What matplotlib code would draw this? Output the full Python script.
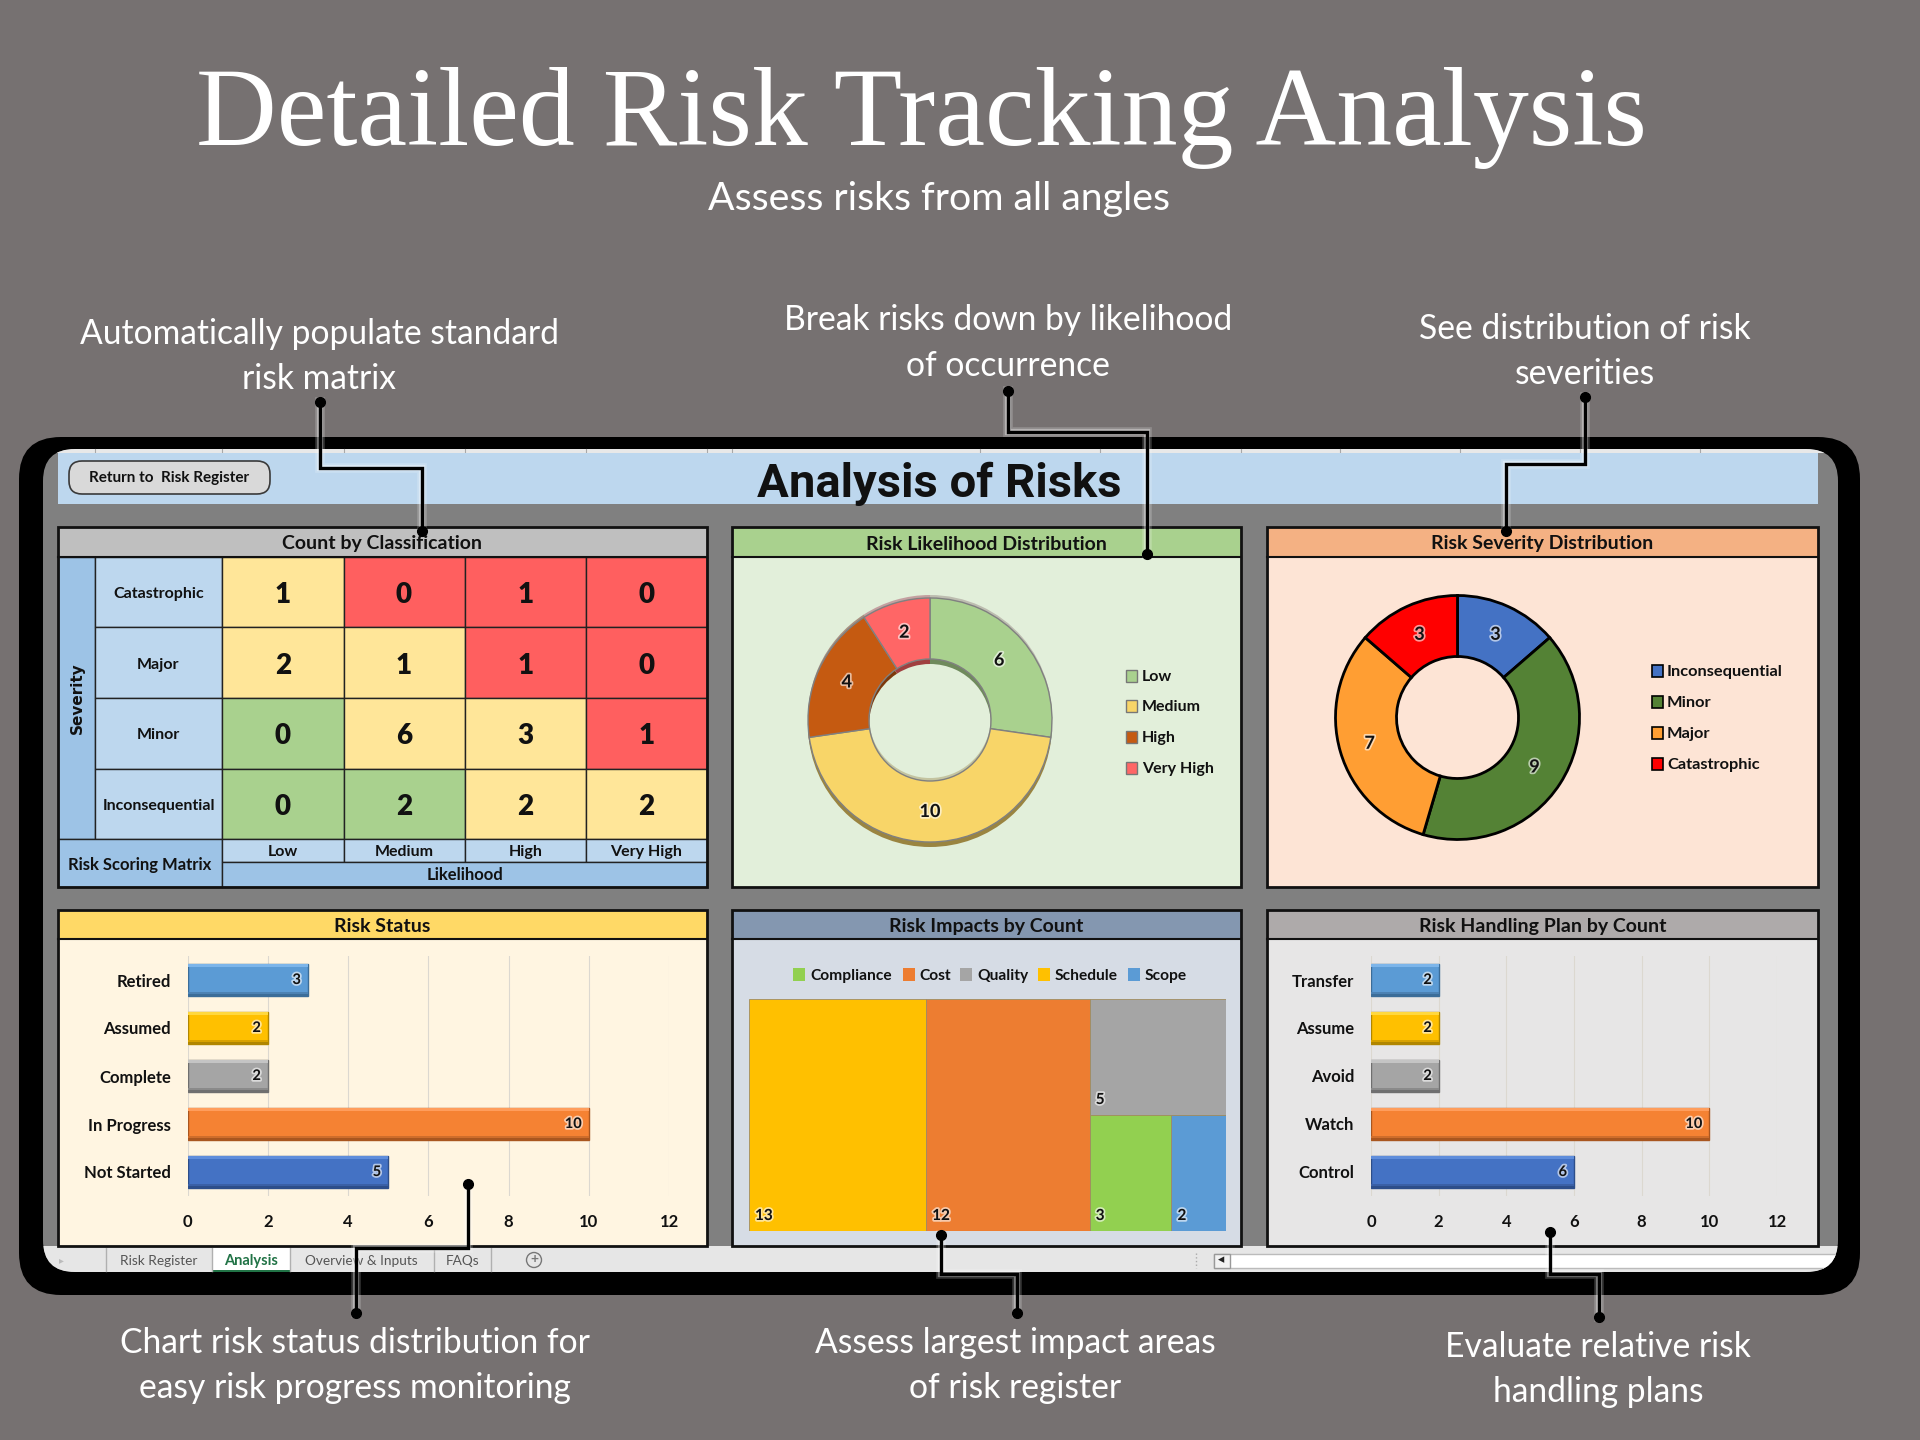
import numpy as np
import matplotlib
matplotlib.use('Agg')
import matplotlib.pyplot as plt
import matplotlib.patheffects as pe
from matplotlib.patches import Rectangle, FancyBboxPatch, Circle

W, H = 1920, 1440

# risk matrix
severity_labels = ['Catastrophic', 'Major', 'Minor', 'Inconsequential']
likelihood_labels = ['Low', 'Medium', 'High', 'Very High']
matrix_values = [[1, 0, 1, 0],
                 [2, 1, 1, 0],
                 [0, 6, 3, 1],
                 [0, 2, 2, 2]]
matrix_levels = [['y', 'r', 'r', 'r'],
                 ['y', 'y', 'r', 'r'],
                 ['g', 'y', 'y', 'r'],
                 ['g', 'g', 'y', 'y']]

# donuts
likelihood_values = [6, 10, 4, 2]
severity_names = ['Inconsequential', 'Minor', 'Major', 'Catastrophic']
severity_values = [3, 9, 7, 3]

# bars
status_labels = ['Retired', 'Assumed', 'Complete', 'In Progress', 'Not Started']
status_values = [3, 2, 2, 10, 5]
plan_labels = ['Transfer', 'Assume', 'Avoid', 'Watch', 'Control']
plan_values = [2, 2, 2, 10, 6]

# treemap
impact_labels = ['Schedule', 'Cost', 'Quality', 'Compliance', 'Scope']
impact_values = [13, 12, 5, 3, 2]
legend_order = ['Compliance', 'Cost', 'Quality', 'Schedule', 'Scope']

SANS = 'Lato'
plt.rcParams['font.family'] = SANS

fig = plt.figure(figsize=(19.2, 14.4), dpi=100, facecolor='#767171')
bg = fig.add_axes([0, 0, 1, 1], zorder=0)
bg.set_xlim(0, W)
bg.set_ylim(H, 0)
bg.axis('off')


def box(x0, y0, x1, y1, color, ec='none', lw=0, z=1):
    r = Rectangle((x0, y0), x1 - x0, y1 - y0, facecolor=color, edgecolor=ec, linewidth=lw, zorder=z)
    bg.add_patch(r)
    return r


def label(x, y, s, size=11, weight='bold', color='#111111', ax=bg, **kw):
    kw.setdefault('ha', 'center')
    kw.setdefault('va', 'center')
    kw.setdefault('zorder', 6)
    return ax.text(x, y, s, fontsize=size, fontweight=weight, color=color, **kw)


def sub_axes(x0, y0, x1, y1):
    a = fig.add_axes([x0 / W, 1 - y1 / H, (x1 - x0) / W, (y1 - y0) / H], zorder=2)
    a.patch.set_alpha(0)
    return a


glow = [pe.withStroke(linewidth=2.5, foreground='white', alpha=0.6)]

# monitor frame
bg.add_patch(FancyBboxPatch((19, 437), 1841, 858, boxstyle='round,pad=0,rounding_size=42',
                            facecolor='black', edgecolor='none', zorder=1))
inner = FancyBboxPatch((43, 449), 1795, 823, boxstyle='round,pad=0,rounding_size=32',
                       facecolor='#808080', edgecolor='none', zorder=1.1)
bg.add_patch(inner)

# header band
band = box(43, 449, 1838, 453, '#e8e8e8', z=1.2)
band.set_clip_path(inner)
for sx in [95, 222, 343.5, 464.5, 586, 707, 732, 980, 1100, 1241, 1340, 1460, 1580, 1700]:
    bg.plot([sx, sx], [449, 453], color='#a8a8a8', lw=0.8, zorder=1.25)
box(58, 453, 1818, 504, '#bdd7ee', z=1.3)
bg.add_patch(FancyBboxPatch((69, 461), 201, 33, boxstyle='round,pad=0,rounding_size=13',
                            facecolor='#d9d9d9', edgecolor='#3a3a3a', linewidth=1.2, zorder=2))
label(169, 478, 'Return to  Risk Register', size=11, zorder=3)
label(939, 484, 'Analysis of Risks', size=34, family='Roboto')

# tab bar
tabs = box(43, 1246, 1838, 1272, '#e6e6e6', z=1.2)
tabs.set_clip_path(inner)
box(212, 1246, 290, 1272, 'white', z=1.3)
box(212, 1270, 290, 1272, '#217346', z=1.4)
for sx in [106, 212, 290, 434, 491]:
    bg.plot([sx, sx], [1248, 1271], color='#b0b0b0', lw=1, zorder=1.5)
label(61, 1260, '▸', size=7, family='DejaVu Sans', color='#bbbbbb')
label(158.5, 1261, 'Risk Register', size=9.8, weight='normal', color='#555555')
label(251, 1261, 'Analysis', size=10.5, color='#217346')
label(361, 1261, 'Overview & Inputs', size=9.8, weight='normal', color='#555555')
label(463, 1261, 'FAQs', size=9.8, weight='normal', color='#555555')
bg.add_patch(Circle((534, 1260), 7.5, facecolor='none', edgecolor='#777777', linewidth=1, zorder=2))
label(534, 1259.5, '+', size=10, color='#777777')
scroll = box(1214, 1254, 1838, 1268, 'white', ec='#bbbbbb', lw=1, z=1.5)
scroll.set_clip_path(inner)
box(1214, 1254, 1230, 1268, '#f2f2f2', ec='#999999', lw=1, z=1.6)
label(1221, 1260, '◂', size=9, family='DejaVu Sans', color='#222222')
bg.plot([1196, 1196], [1253, 1268], color='#aaaaaa', lw=1, ls=':', zorder=1.5)

# panels
panels = [(58, 527, 707, 557, 887, '#bfbfbf', '#ffffff', 'Count by Classification'),
          (732, 527, 1241, 557, 887, '#a9d18e', '#e2efda', 'Risk Likelihood Distribution'),
          (1267, 527, 1818, 557, 887, '#f4b183', '#fde4d5', 'Risk Severity Distribution'),
          (58, 910, 707, 939, 1246, '#ffd966', '#fff5e1', 'Risk Status'),
          (732, 910, 1241, 939, 1246, '#8497b0', '#d6dce5', 'Risk Impacts by Count'),
          (1267, 910, 1818, 939, 1246, '#aeaaaa', '#e7e6e6', 'Risk Handling Plan by Count')]
for x0, y0, x1, ym, y1, head, body, title in panels:
    box(x0, ym, x1, y1, body, z=2)
    box(x0, y0, x1, ym, head, z=2)
    box(x0, y0, x1, y1, 'none', ec='#111111', lw=2, z=4)
    bg.plot([x0, x1], [ym, ym], color='#111111', lw=1.5, zorder=4)
    label((x0 + x1) / 2, (y0 + ym) / 2 + 2, title, size=14)

# matrix
cell_x = [222, 343.5, 464.5, 586, 707]
cell_y = [557, 627, 698, 768.5, 839]
level_color = {'y': '#ffe699', 'r': '#ff5f5f', 'g': '#a9d18e'}
box(58, 557, 95, 839, '#9dc3e6', ec='#222222', lw=1, z=3)
label(77, 698, 'Severity', size=11, rotation=90, family='DejaVu Sans')
for i, name in enumerate(severity_labels):
    box(95, cell_y[i], 222, cell_y[i + 1], '#bdd7ee', ec='#222222', lw=1, z=3)
    label(158.5, (cell_y[i] + cell_y[i + 1]) / 2 + 2, name, size=11.5)
    for j in range(4):
        box(cell_x[j], cell_y[i], cell_x[j + 1], cell_y[i + 1], level_color[matrix_levels[i][j]],
            ec='#222222', lw=1, z=3)
        label((cell_x[j] + cell_x[j + 1]) / 2, (cell_y[i] + cell_y[i + 1]) / 2 + 3,
              str(matrix_values[i][j]), size=20, weight='heavy')
box(58, 839, 222, 887, '#9dc3e6', ec='#222222', lw=1, z=3)
label(140, 865, 'Risk Scoring Matrix', size=12)
for j, name in enumerate(likelihood_labels):
    box(cell_x[j], 839, cell_x[j + 1], 862, '#bdd7ee', ec='#222222', lw=1, z=3)
    label((cell_x[j] + cell_x[j + 1]) / 2, 852, name, size=11.5)
box(222, 862, 707, 887, '#9dc3e6', ec='#222222', lw=1, z=3)
label(464.5, 875, 'Likelihood', size=12)


# donuts
def donut(cx, cy, R, vals, colors, hole, edge, lw, layers=()):
    total = sum(vals)
    for dy, cols in layers:
        a = sub_axes(cx - R, cy - R + dy, cx + R, cy + R + dy)
        a.pie(vals, colors=cols, startangle=90, counterclock=False, radius=1,
              wedgeprops={'width': 1 - hole, 'edgecolor': 'none'})
        a.set_xlim(-1, 1)
        a.set_ylim(-1, 1)
    a = sub_axes(cx - R, cy - R, cx + R, cy + R)
    _, _, autos = a.pie(vals, colors=colors, startangle=90, counterclock=False, radius=1,
                        wedgeprops={'width': 1 - hole, 'edgecolor': edge, 'linewidth': lw},
                        autopct=lambda p: str(int(round(p * total / 100))), pctdistance=(1 + hole) / 2)
    for t in autos:
        t.set_fontsize(13)
        t.set_fontweight('bold')
        t.set_color('#111111')
        t.set_path_effects(glow)
    a.set_xlim(-1, 1)
    a.set_ylim(-1, 1)


likelihood_colors = ['#a9d18e', '#f8d568', '#c55a11', '#ff6666']
likelihood_dark = ['#6f8a5c', '#9a8440', '#7d390b', '#a04040']
likelihood_light = ['#bdbdb0', '#c4c4a0', '#a89080', '#c4a0a0']
donut(930, 720, 122, likelihood_values, likelihood_colors, 0.5, '#808080', 1,
      layers=[(-3, likelihood_light), (5, likelihood_dark)])
for i, name in enumerate(likelihood_labels):
    y = [676, 706, 737, 768][i]
    box(1126, y - 6, 1137, y + 6, likelihood_colors[i], ec='#777777', lw=1, z=3)
    label(1142, y + 1, name, size=11.5, ha='left')

severity_colors = ['#4472c4', '#548235', '#ff9e33', '#ff0000']
donut(1457.5, 717.5, 122, severity_values, severity_colors, 0.5, 'black', 2)
for i, name in enumerate(severity_names):
    y = [671, 702, 733, 764][i]
    box(1652, y - 6, 1663, y + 6, severity_colors[i], ec='black', lw=1.2, z=3)
    label(1667, y + 1, name, size=11.8, ha='left')

# bars
bar_colors = ['#5b9bd5', '#ffc000', '#a5a5a5', '#f58233', '#4472c4']
bar_light = ['#7cb5ea', '#ffd83f', '#c4c4c4', '#ff9d5c', '#5f8ddb']
bar_mid = ['#4c82b4', '#d8a200', '#8a8a8a', '#cf6d2b', '#3a60a6']
bar_dark = ['#3b6d99', '#b08600', '#6f6f6f', '#a9561f', '#2d4e8a']


def bar_panel(x0, x1, labels, vals):
    a = sub_axes(x0, 956, x1, 1196)
    ypos = np.arange(len(vals))
    bh = 0.68
    a.grid(axis='x', color='#dcd8d0', lw=0.8)
    a.set_axisbelow(True)
    bars = a.barh(ypos, vals, height=bh, color=bar_colors, edgecolor=bar_dark, linewidth=1)
    a.barh(ypos - bh / 2 + 0.035, vals, height=0.07, color=bar_light)
    a.barh(ypos + bh / 2 - 0.06, vals, height=0.05, color=bar_mid)
    a.barh(ypos + bh / 2 - 0.02, vals, height=0.04, color=bar_dark)
    a.set_xlim(0, 12)
    a.set_ylim(len(vals) - 0.5, -0.5)
    a.set_xticks(np.arange(0, 13, 2))
    a.set_yticks(ypos, labels)
    a.tick_params(length=0, labelsize=12, labelcolor='#111111')
    a.tick_params(axis='x', pad=13)
    a.tick_params(axis='y', pad=12)
    for t in a.get_xticklabels() + a.get_yticklabels():
        t.set_fontweight('bold')
    for s in a.spines.values():
        s.set_visible(False)
    for t in a.bar_label(bars, padding=-5, fontsize=10.5, fontweight='bold', color='#111111'):
        t.set_ha('right')
        t.set_path_effects(glow)


bar_panel(187.5, 669, status_labels, status_values)
bar_panel(1371, 1777, plan_labels, plan_values)

# treemap, laid out from the values
impact_colors = {'Schedule': '#ffc000', 'Cost': '#ed7d31', 'Quality': '#a5a5a5',
                 'Compliance': '#92d050', 'Scope': '#5b9bd5'}
tm = sub_axes(749, 999, 1226, 1231)
total = sum(impact_values)
rest = sum(impact_values[2:])
low = sum(impact_values[3:])
tm.set_xlim(0, total)
tm.set_ylim(0, rest)
tm.axis('off')
x_col = impact_values[0] + impact_values[1]
rects = [(0, 0, impact_values[0], rest),
         (impact_values[0], 0, impact_values[1], rest),
         (x_col, low, rest, rest - low),
         (x_col, 0, rest * impact_values[3] / low, low),
         (x_col + rest * impact_values[3] / low, 0, rest * impact_values[4] / low, low)]
for (rx, ry, rw, rh), name, v in zip(rects, impact_labels, impact_values):
    tm.add_patch(Rectangle((rx, ry), rw, rh, facecolor=impact_colors[name], edgecolor='#a08c60', linewidth=0.6))
    t = tm.annotate(str(v), (rx, ry), xytext=(6, 15), textcoords='offset pixels', fontsize=11,
                    fontweight='bold', color='#111111', ha='left', va='center')
    t.set_path_effects(glow)

leg_patch_x = [793, 902.5, 960, 1038, 1128]
for name, px in zip(legend_order, leg_patch_x):
    box(px, 968, px + 12, 981, impact_colors[name], z=3)
    label(px + 17, 976, name, size=11.2, ha='left')

# headings
over = fig.add_axes([0, 0, 1, 1], zorder=5)
over.set_xlim(0, W)
over.set_ylim(H, 0)
over.axis('off')
over.patch.set_alpha(0)
label(921, 118, 'Detailed Risk Tracking Analysis', size=80.5, weight='normal', color='white',
      family='Liberation Serif', ax=over)
label(939, 199, 'Assess risks from all angles', size=28.3, weight='normal', color='white', ax=over)

notes = [(319.5, 334, 379, 'Automatically populate standard', 'risk matrix'),
         (1008, 320, 366, 'Break risks down by likelihood', 'of occurrence'),
         (1585, 329, 374, 'See distribution of risk', 'severities'),
         (355, 1343, 1388, 'Chart risk status distribution for', 'easy risk progress monitoring'),
         (1015, 1343, 1388, 'Assess largest impact areas', 'of risk register'),
         (1598, 1347, 1392, 'Evaluate relative risk', 'handling plans')]
for nx, y1, y2, line1, line2 in notes:
    label(nx, y1, line1, size=24.2, weight='normal', color='white', ax=over)
    label(nx, y2, line2, size=24.2, weight='normal', color='white', ax=over)

# connectors
links = [([320, 320, 422, 422], [402, 468, 468, 531]),
         ([1008, 1008, 1147, 1147], [391, 432, 432, 554]),
         ([1585, 1585, 1506, 1506], [397, 464, 464, 531]),
         ([468, 468, 356, 356], [1184, 1248, 1248, 1313]),
         ([941, 941, 1017, 1017], [1235, 1274, 1274, 1313]),
         ([1550, 1550, 1598.5, 1598.5], [1232, 1274, 1274, 1317])]
for lx, ly in links:
    over.plot(lx, ly, color='white', lw=7, alpha=0.18, solid_joinstyle='miter', zorder=2)
    over.plot(lx, ly, color='white', lw=4.5, alpha=0.35, solid_joinstyle='miter', zorder=2)
    over.plot(lx, ly, color='black', lw=2.4, solid_joinstyle='miter', zorder=3)
    over.plot([lx[0], lx[-1]], [ly[0], ly[-1]], 'o', color='black', ms=7, zorder=4)

plt.savefig('out.png', dpi=100, facecolor=fig.get_facecolor())
plt.close('all')
